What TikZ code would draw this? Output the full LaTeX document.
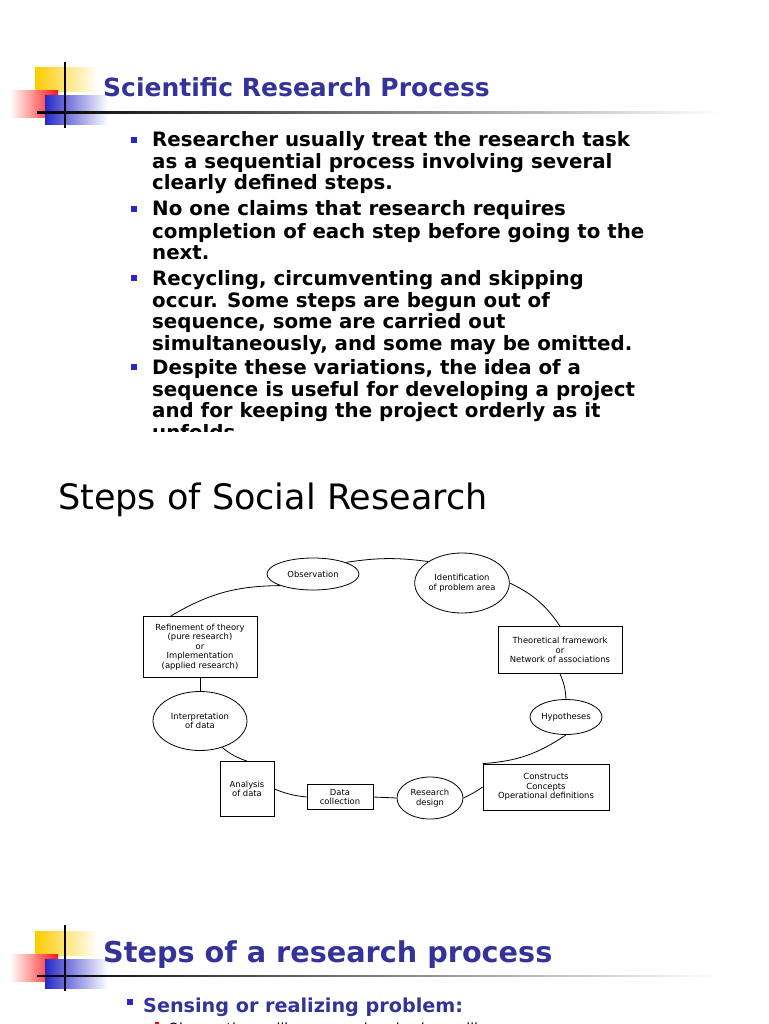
\documentclass[tikz,border=0pt]{standalone}
\usepackage{fontspec}
\setmainfont{DejaVu Sans}
\usetikzlibrary{shapes.geometric}
\definecolor{tblue}{RGB}{51,51,153}
\definecolor{lyel}{RGB}{255,204,0}
\definecolor{lred}{RGB}{255,20,20}
\definecolor{lblu}{RGB}{40,40,200}
\tikzset{
 bul/.style={anchor=base west,font=\bfseries\fontsize{19.8}{20}\selectfont,inner sep=0},
 sq/.style={fill=lblu,minimum size=6pt,inner sep=0},
 ell/.style={ellipse,draw,thick,font=\fontsize{8.4}{9.6}\selectfont,align=center,inner sep=0},
 box/.style={rectangle,draw,thick,font=\fontsize{8.4}{9.6}\selectfont,align=center,inner sep=0},
 con/.style={thick}
}
\newcommand{\logo}[2]{%
 \shade[left color=lyel,right color=lyel!5] (35,#1-20) rectangle (95,#1+4);
 \shade[left color=white,right color=lred] (10,#1+3) rectangle (58,#1+30);
 \shade[left color=lblu,right color=white] (45,#1+8) rectangle (108,#1+37);
 \draw[line width=1.6pt] (65,#1-26) -- (65,#1+40);
 \shade[left color=black,right color=white] (37,#1+24) rectangle (720,#1+25.5);
}
\begin{document}
\begin{tikzpicture}[x=1pt,y=-1pt]
\useasboundingbox[fill=white] (0,0) rectangle (768,1024);
\clip (0,0) rectangle (768,1024);
\logo{88}{}
\node[anchor=base west,text=tblue,font=\bfseries\fontsize{25}{25}\selectfont,inner sep=0] (t1) at (103,97) {Scientific Research Process};
\foreach \y in {140,209,278,367} \node[sq] at (134,\y) {};
\node[bul] (b1) at (152,147) {Researcher usually treat the research task};
\node[bul] at (152,169) {as a sequential process involving several};
\node[bul] at (152,190) {clearly defined steps.};
\node[bul] (b2) at (152,216) {No one claims that research requires};
\node[bul] at (152,238) {completion of each step before going to the};
\node[bul] at (152,259) {next.};
\node[bul] (b3) at (152,285) {Recycling, circumventing and skipping};
\node[bul] at (152,307) {occur. Some steps are begun out of};
\node[bul] at (152,328) {sequence, some are carried out};
\node[bul] at (152,350) {simultaneously, and some may be omitted.};
\node[bul] (b4) at (152,374) {Despite these variations, the idea of a};
\node[bul] at (152,396) {sequence is useful for developing a project};
\node[bul] at (152,417) {and for keeping the project orderly as it};
\begin{scope}
\clip (140,421) rectangle (700,431);
\node[bul] at (152,439) {unfolds.};
\end{scope}
\node[anchor=base west,font=\fontsize{35}{35}\selectfont,inner sep=0] (t2) at (58,509) {Steps of Social Research};
% diagram
\node[ell,minimum width=92,minimum height=32] (obs) at (313,574) {Observation};
\node[ell,minimum width=92,minimum height=60] (idf) at (462,583) {Identification\\of problem area};
\node[box,minimum width=124,minimum height=47] (thf) at (560,650) {Theoretical framework\\or\\Network of associations};
\node[ell,minimum width=72,minimum height=35] (hyp) at (566,717) {Hypotheses};
\node[box,minimum width=126,minimum height=46] (cons) at (546,787) {Constructs\\Concepts\\Operational definitions};
\node[ell,minimum width=66,minimum height=42] (rd) at (430,798) {Research\\design};
\node[box,minimum width=66,minimum height=25] (dc) at (340,797) {Data\\collection};
\node[box,minimum width=54,minimum height=55] (an) at (247,789) {Analysis\\of data};
\node[ell,minimum width=94,minimum height=59] (int) at (200,721) {Interpretation\\of data};
\node[box,minimum width=114,minimum height=61] (ref) at (200,647) {Refinement of theory\\(pure research)\\or\\Implementation\\(applied research)};
\draw[con] (obs.north east) to[bend left=8] (idf.north west);
\draw[con] (idf.east) to[bend left=15] (thf.north);
\draw[con] (thf.south) to[bend left=10] (hyp.north);
\draw[con] (hyp.south) to[bend left=15] (cons.north west);
\draw[con] (cons.west) to[bend left=5] (rd.east);
\draw[con] (rd.west) -- (dc.east);
\draw[con] (dc.west) to[bend left=8] (an.east);
\draw[con] (int.-50) to[bend right=10] (an.north);
\draw[con] (int.north) -- (ref.south);
\draw[con] ([xshift=28pt]ref.north west) to[bend left=15] (obs.south west);
% second slide
\logo{951}{}
\node[anchor=base west,text=tblue,font=\bfseries\fontsize{28.7}{28.7}\selectfont,inner sep=0] (t3) at (103,962) {Steps of a research process};
\node[sq] at (130,1002) {};
\node[anchor=base west,text=tblue,font=\bfseries\fontsize{19.2}{19.2}\selectfont,inner sep=0] (b5) at (143,1012) {Sensing or realizing problem:};
\node[fill=red,minimum size=4pt,inner sep=0] at (157,1024) {};
\node[anchor=base west,font=\fontsize{14}{14}\selectfont,inner sep=0] at (168,1033) {Observation or library search or business dilemma};
\end{tikzpicture}
\end{document}
